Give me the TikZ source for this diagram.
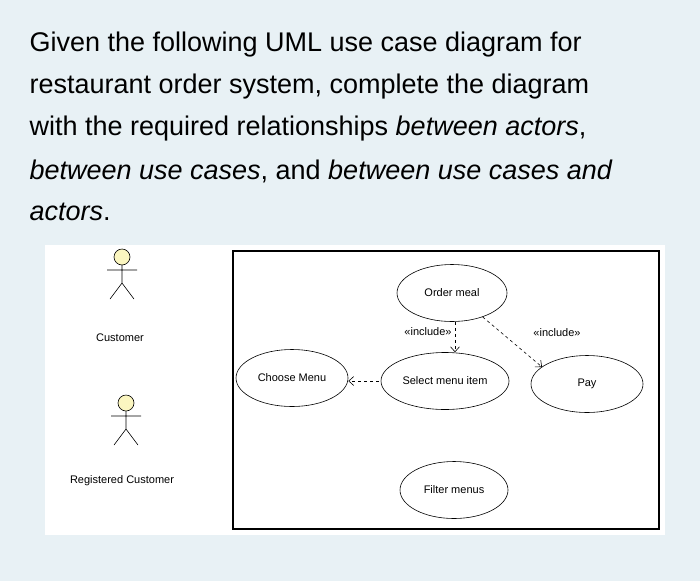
\documentclass[tikz,border=0pt]{standalone}
\usepackage{fontspec}
\setmainfont{Liberation Sans}
\usetikzlibrary{arrows.meta,shapes.geometric}
\definecolor{bgc}{HTML}{E8F1F5}
\definecolor{headc}{HTML}{FBF6C0}
\tikzset{
  uc/.style={ellipse, draw, semithick, fill=white, minimum width=#1, minimum height=57pt, inner sep=0pt, font=\fontsize{11}{12}\selectfont},
  dep/.style={dashed, semithick, -{Straight Barb[length=5pt,width=9pt]}},
  lbl/.style={font=\fontsize{11}{12}\selectfont},
  para/.style={anchor=west, font=\fontsize{27}{30}\selectfont}
}
\newcommand{\actor}[2]{%
  \draw[semithick] (#1,#2+8) -- (#1,#2+26) (#1-15,#2+13) -- (#1+15,#2+13)
    (#1-12,#2+42) -- (#1,#2+26) -- (#1+12,#2+42);
  \draw[semithick, fill=headc] (#1,#2) circle (8);
}
\begin{document}
\begin{tikzpicture}[x=1pt,y=-1pt]
\fill[bgc] (0,0) rectangle (700,581);
\useasboundingbox (0,0) rectangle (700,581);
\fill[white] (45,245) rectangle (665,535);
\node[para] (l1) at (26,45) {Given the following UML use case diagram for};
\node[para] (l2) at (26,87) {restaurant order system, complete the diagram};
\node[para] (l3) at (26,129) {with the required relationships \textit{between actors},};
\node[para] (l4) at (26,171) {\textit{between use cases}, and \textit{between use cases and}};
\node[para] (l5) at (26,212) {\textit{actors}.};
\draw[line width=2.5pt] (233,251) rectangle (659,529);
\actor{122}{257}
\node[lbl] (cust) at (120,338) {Customer};
\actor{126}{403}
\node[lbl] (reg) at (122,481) {Registered Customer};
\node[uc=110pt] (order) at (452,293) {Order meal};
\node[uc=128pt] (sel) at (445,381) {Select menu item};
\node[uc=112pt] (choose) at (292,378) {Choose Menu};
\node[uc=112pt] (pay) at (587,384) {Pay};
\node[uc=108pt] (filter) at (454,490) {Filter menus};
\draw[dep] (order.south) ++(3,0) coordinate (os) -- (os |- sel.north);
\node[lbl] (inc1) at (428,332) {«include»};
\coordinate (payin) at (542,367);
\draw[dep] (order.-38) -- (payin);
\node[lbl] (inc2) at (557,333) {«include»};
\draw[dep] (sel.west) ++(-2,0) coordinate (sw) -- (choose.east |- sw);
\end{tikzpicture}
\end{document}
